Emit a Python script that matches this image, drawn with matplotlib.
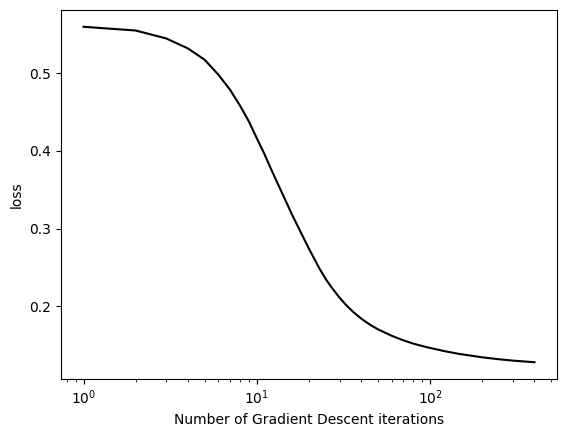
import matplotlib
matplotlib.use("Agg")
import matplotlib.pyplot as plt

# loss at selected iterations
iterations = [1, 2, 3, 4, 5, 6, 7, 8, 9, 10, 11, 12, 13, 14, 15, 16, 18, 20, 23, 25,
              27, 30, 33, 36, 40, 45, 50, 60, 69, 80, 95, 120, 147, 200, 250, 300, 400]
loss = [0.5594, 0.5546, 0.5444, 0.5316, 0.5170, 0.4978, 0.4786, 0.4580, 0.4376, 0.4160,
        0.3970, 0.3780, 0.3610, 0.3455, 0.3310, 0.3175, 0.2945, 0.2740, 0.2485, 0.2351,
        0.2244, 0.2113, 0.2010, 0.1929, 0.1844, 0.1765, 0.1706, 0.1623, 0.1570, 0.1522,
        0.1478, 0.1427, 0.1390, 0.1346, 0.1321, 0.1304, 0.1283]

fig = plt.figure(figsize=(5.67, 4.37), dpi=100)
ax = fig.add_subplot(111)
fig.subplots_adjust(left=0.1076, right=0.9824, top=0.9771, bottom=0.1327)

ax.plot(iterations, loss, color='black')
ax.set_xscale('log')
ax.set_xlabel("Number of Gradient Descent iterations")
ax.set_ylabel("loss")

fig.savefig("out.png", dpi=100)
